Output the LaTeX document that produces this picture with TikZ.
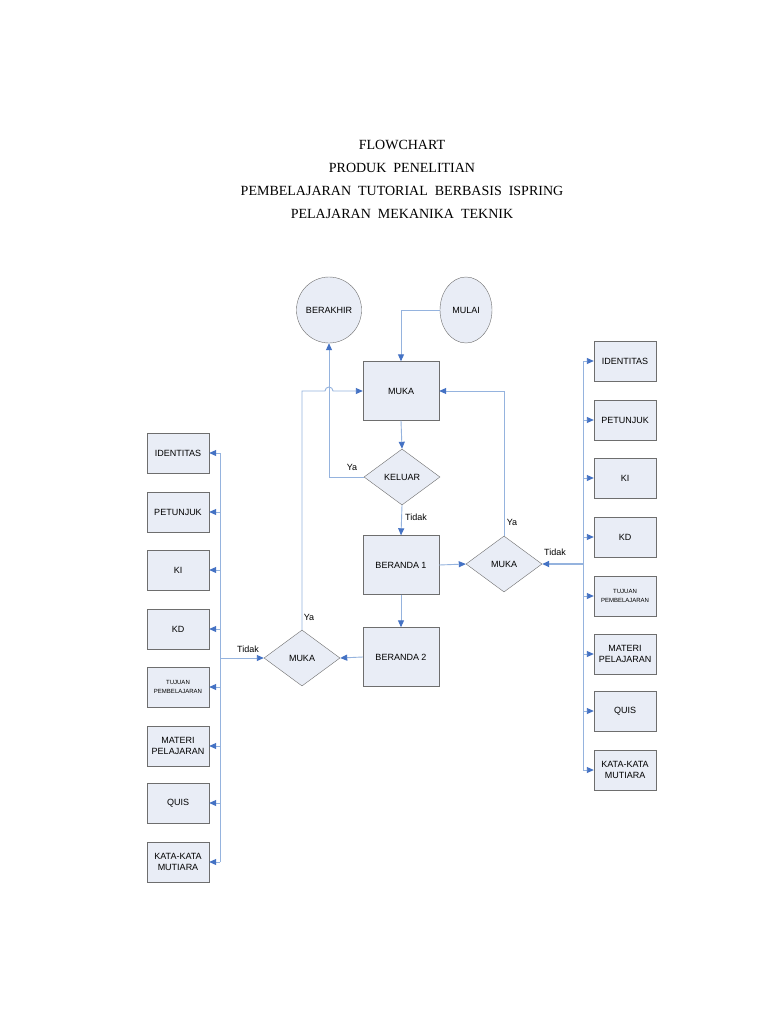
\documentclass[tikz,border=0pt]{standalone}
\usepackage{fontspec}
\setmainfont{Liberation Serif}
\setsansfont{Liberation Sans}
\usetikzlibrary{shapes.geometric,arrows.meta}
\definecolor{boxfill}{HTML}{E9EDF6}
\definecolor{boxline}{HTML}{6E6E6E}
\definecolor{lnc}{HTML}{95B3DE}
\definecolor{tipc}{HTML}{4472C4}
\begin{document}
\begin{tikzpicture}[x=1pt,y=-1pt,
  box/.style={draw=boxline,fill=boxfill,minimum width=76pt,minimum height=59pt,font=\sffamily\fontsize{9}{10}\selectfont},
  sbox/.style={draw=boxline,fill=boxfill,minimum width=62pt,minimum height=40pt,align=center,font=\sffamily\fontsize{9}{10.5}\selectfont},
  dia/.style={diamond,draw=boxline,fill=boxfill,aspect=1.36,minimum width=76pt,minimum height=56pt,inner sep=0pt,font=\sffamily\fontsize{9}{10}\selectfont},
  circ/.style={ellipse,draw=boxline,fill=boxfill,minimum width=52pt,minimum height=66pt,inner sep=0pt,font=\sffamily\fontsize{9}{10}\selectfont},
  con/.style={draw=lnc,line width=0.9pt,-{Triangle[color=tipc,length=7pt,width=6pt]}},
  bus/.style={draw=lnc,line width=0.9pt},
  lab/.style={font=\sffamily\fontsize{9}{10}\selectfont}]
\useasboundingbox (0,0) rectangle (768,1024);
\fill[white] (0,0) rectangle (768,1024);
\foreach \t/\y in {FLOWCHART/145,PRODUK\ \ PENELITIAN/168,PEMBELAJARAN\ \ TUTORIAL\ \ BERBASIS\ \ ISPRING/191,PELAJARAN\ \ MEKANIKA\ \ TEKNIK/214}
  \node[font=\fontsize{14}{16}\selectfont] at (402,\y) {\t};
\node[circ] (end) at (329,310) {BERAKHIR};
\node[circ] (start) at (466,310) {MULAI};
\node[box] (muka) at (401,391) {MUKA};
\node[dia] (keluar) at (402,477) {KELUAR};
\node[box] (b1) at (401,565) {BERANDA 1};
\node[box] (b2) at (401,657) {BERANDA 2};
\node[dia] (mr) at (504,564) {MUKA};
\node[dia] (ml) at (302,658) {MUKA};
\coordinate (busL) at (220,658);
\coordinate (busR) at (583,564);
\draw[bus] (220,453) -- (220,862);
\draw[bus] (583,361) -- (583,770);
\foreach \n/\t/\y [count=\i] in {IDENTITAS/IDENTITAS/453,PETUNJUK/PETUNJUK/512,KI/KI/570,KD/KD/629,TP/{\fontsize{6}{7}\selectfont TUJUAN\\[-1pt]\fontsize{6}{7}\selectfont PEMBELAJARAN}/687,MP/{MATERI\\PELAJARAN}/746,QUIS/QUIS/803,KKM/{KATA-KATA\\MUTIARA}/862}{
  \node[sbox] (L\i) at (178,\y) {\t};
  \coordinate (lb\i) at (220,\y);
  \draw[con] (lb\i) -- (L\i.east);
}
\foreach \n/\t/\y [count=\i] in {IDENTITAS/IDENTITAS/361,PETUNJUK/PETUNJUK/420,KI/KI/478,KD/KD/537,TP/{\fontsize{6}{7}\selectfont TUJUAN\\[-1pt]\fontsize{6}{7}\selectfont PEMBELAJARAN}/596,MP/{MATERI\\PELAJARAN}/654,QUIS/QUIS/711,KKM/{KATA-KATA\\MUTIARA}/770}{
  \node[sbox] (R\i) at (625,\y) {\t};
  \coordinate (rb\i) at (583,\y);
  \draw[con] (rb\i) -- (R\i.west);
}
\draw[con] (busL) -- (ml.west);
\draw[con,line width=1.6pt] (busR) -- (mr.east);
\node[lab] at (248,649) {Tidak};
\node[lab] at (555,552) {Tidak};
\draw[con] (start.west) -| (muka.north);
\draw[con] (keluar.west) -| (end.south);
\node[lab] at (352,467) {Ya};
\draw[con] (ml.north) -- (302,391) -- (325,391) arc[start angle=180,end angle=360,radius=4] -- (muka.west);
\node[lab] at (309,617) {Ya};
\draw[con] (mr.north) |- (muka.east);
\node[lab] at (512,522) {Ya};
\draw[con] (muka.south) -- (keluar.north);
\draw[con] (keluar.south) -- (b1.north);
\node[lab] at (416,517) {Tidak};
\draw[con] (b1.east) -- (mr.west);
\draw[con] (b1.south) -- (b2.north);
\draw[con] (b2.west) -- (ml.east);
\end{tikzpicture}
\end{document}
